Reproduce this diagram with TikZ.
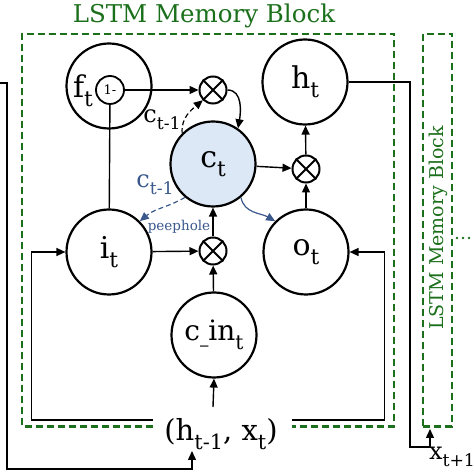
\documentclass[tikz,border=0pt]{standalone}
\usepackage{fontspec}
\setmainfont{DejaVu Serif}
\usetikzlibrary{arrows.meta}
\definecolor{lgreen}{RGB}{28,112,28}
\definecolor{pblue}{RGB}{58,88,140}
\definecolor{cfill}{RGB}{220,232,246}
\newcommand{\lsub}[1]{\raisebox{-0.3em}{\scalebox{0.72}{#1}}}
\begin{document}
\begin{tikzpicture}[x=1pt,y=1pt,
 gate/.style={circle,draw,line width=2.2pt,minimum size=85pt,inner sep=0pt,font=\fontsize{30}{34}\selectfont},
 mult/.style={circle,draw,line width=2pt,minimum size=27pt,inner sep=0pt},
 arr/.style={line width=1.4pt,-{Triangle[length=9pt,width=8pt]}},
 conn/.style={line width=1.4pt},
 blk/.style={draw=lgreen,line width=2.4pt,dash pattern=on 7pt off 4pt},
 lbl/.style={font=\fontsize{24.5}{28}\selectfont}]
\useasboundingbox (0,0) rectangle (474,474);

% blocks
\node[lbl,text=lgreen,anchor=base] (title) at (204,451) {LSTM Memory Block};
\draw[blk] (153,47.5) -- (22,47.5) -- (22,440) -- (394,440) -- (394,47.5) -- (292,47.5);
\draw[blk] (423,47.5) rectangle (452,440);
\node[font=\fontsize{19}{22}\selectfont,text=lgreen,rotate=90] (blk2) at (438,246) {LSTM Memory Block};
\draw[lgreen,line width=2.6pt,line cap=round,dash pattern=on 0pt off 6pt] (457,236) -- (474,236);

% nodes
\node[gate] (f) at (109,388) {};
\node[font=\fontsize{30}{34}\selectfont] (ftxt) at (83,383) {f\lsub{t}};
\node[circle,draw,fill=white,line width=1.8pt,minimum size=28pt,inner sep=0pt,font=\fontsize{13}{15}\selectfont] (one) at (110,384) {1-};
\node[mult] (m1) at (213,384) {};
\node[gate,fill=cfill] (c) at (213,310) {c\lsub{t}};
\node[mult] (m2) at (306,305) {};
\node[gate] (h) at (305,392) {h\lsub{t}};
\node[gate] (o) at (306,222) {o\lsub{t}};
\node[gate] (i) at (109,222) {i\lsub{t}};
\node[mult] (m3) at (213,223) {};
\node[gate,font=\fontsize{28}{32}\selectfont] (cin) at (214,139) {c\scalebox{0.6}[1]{\_}in\lsub{t}};
\node[font=\fontsize{29}{34}\selectfont] (inp) at (221,40) {(h\lsub{t-1}, x\lsub{t})};
\node[font=\fontsize{24}{28}\selectfont] (xnext) at (452,17) {x\lsub{t+1}};

\foreach \m in {m1,m2,m3} {\draw[line width=2pt] (\m.north west)--(\m.south east) (\m.north east)--(\m.south west);}

% connectors
\draw[arr] (one) -- (m1);
\draw[conn] (one) -- (i);
\draw[arr,dash pattern=on 5pt off 3pt,line width=1.2pt] (c.135) to[out=95,in=220] (m1.225);
\node[font=\fontsize{24}{28}\selectfont] (cprev) at (162,354) {c\lsub{t-1}};
\draw[arr] (m1.east) to[out=0,in=80] (c.55);
\draw[arr] (c) -- (m2);
\draw[arr] (m2) -- (h);
\draw[arr] (o) -- (m2);
\draw[arr] (i) -- (m3);
\draw[arr] (m3) -- (c);
\draw[arr] (cin) -- (m3);
\coordinate (inpTop) at (213,67);
\draw[arr] (inpTop) -- (cin.south);

\draw[arr,dash pattern=on 5pt off 3pt,pblue,line width=1.2pt] (c.230) to[out=210,in=40] (i.45);
\node[font=\fontsize{24}{28}\selectfont,text=pblue] (cpeep) at (155,289) {c\lsub{t-1}};
\node[font=\fontsize{13.5}{16}\selectfont,text=pblue] (peep) at (179,247) {peephole};
\draw[arr,pblue,line width=1.2pt] (c.310) to[out=-80,in=150] (o.135);

\coordinate (Lstart) at (153,54);
\draw[arr] (Lstart) -| ([xshift=-34pt]i.west) -- (i.west);
\coordinate (Rstart) at (292,54);
\draw[arr] (Rstart) -| ([xshift=35pt]o.east) -- (o.east);

\coordinate (Lfar) at (0,391);
\coordinate (Lcorner) at (7,391);
\coordinate (inpArr) at (192,23);
\draw[arr] (Lfar) -- (Lcorner) -- (7,5) -| (inpArr);
\coordinate (nextIn) at (430,45);
\draw[arr] (h.east) -| (410,27) -| (nextIn);
\end{tikzpicture}
\end{document}
